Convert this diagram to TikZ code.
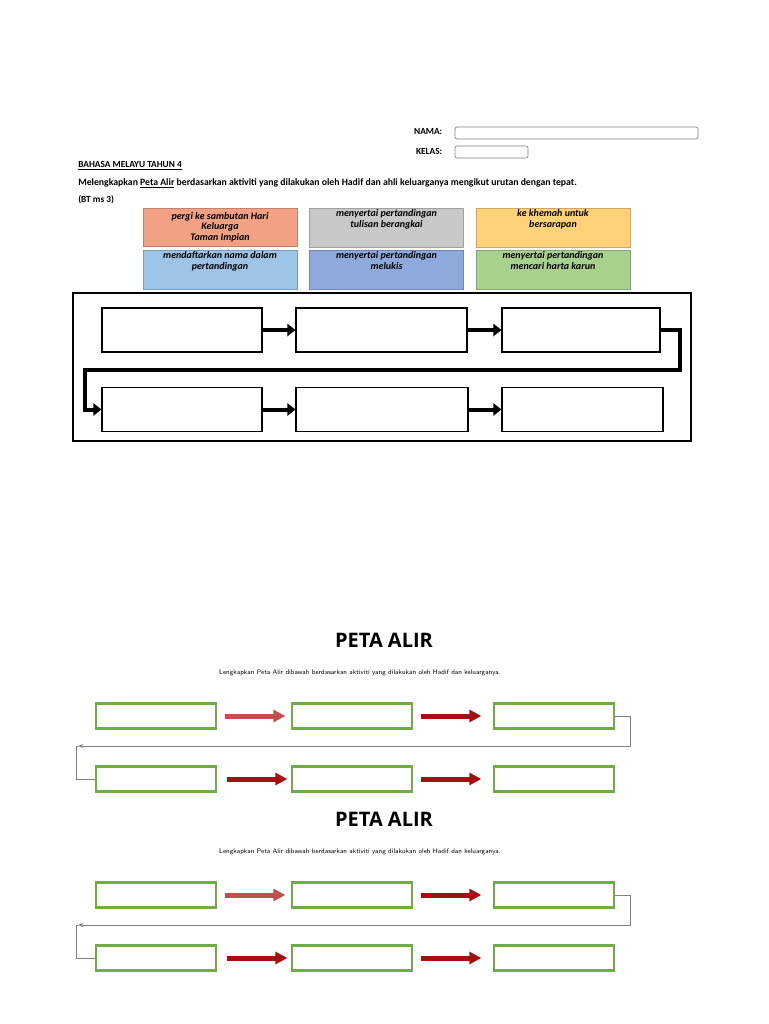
\documentclass[tikz,border=0pt]{standalone}
\usepackage{fontspec}
\setmainfont{Carlito}
\newfontfamily\titlefont{Open Sans}
\usetikzlibrary{arrows.meta}
\definecolor{cA}{HTML}{F2A184}
\definecolor{cB}{HTML}{C8C8C8}
\definecolor{cC}{HTML}{FFD27A}
\definecolor{cD}{HTML}{9DC3E6}
\definecolor{cE}{HTML}{8EA9DB}
\definecolor{cF}{HTML}{A9D18E}
\definecolor{gbox}{HTML}{70AD47}
\definecolor{redA}{HTML}{C0504D}
\definecolor{redB}{HTML}{A50F0F}
\tikzset{
  chip/.style={fill=#1, draw=#1!80!black, line width=0.4pt, minimum width=115.5pt, minimum height=28.5pt, font=\bfseries\itshape\fontsize{7.5}{8}\selectfont, align=center, inner sep=1pt},
  fbox/.style={draw, line width=0.8pt, minimum width=#1, minimum height=33pt, inner sep=0pt},
  gb/.style={draw=gbox, line width=2pt, minimum width=90pt, minimum height=18.75pt, inner sep=0pt},
  bigarrow/.style={line width=3pt, -{Triangle[length=6pt,width=9pt]}},
  redarrow/.style={line width=3.75pt, color=#1, -{Triangle[length=9pt,width=9pt]}},
  fieldbox/.style={draw=gray, rounded corners=1.5pt, line width=0.5pt, minimum height=9pt, inner sep=0pt},
}
\begin{document}
\begin{tikzpicture}[x=0.75pt,y=-0.75pt]
\useasboundingbox (0,0) rectangle (768,1024);
\fill[white] (0,0) rectangle (768,1024);
% header
\node[anchor=east, font=\bfseries\fontsize{7}{8}\selectfont] (nl) at (447,132) {NAMA:};
\node[fieldbox, minimum width=182.25pt] (nb) at (576.5,133) {};
\node[anchor=east, font=\bfseries\fontsize{7}{8}\selectfont] (kl) at (447,151) {KELAS:};
\node[fieldbox, minimum width=54.75pt] (kb) at (491.5,152) {};
\node[anchor=west, font=\bfseries\fontsize{7}{8}\selectfont, inner sep=0pt] (bm) at (78,166) {\underline{BAHASA MELAYU TAHUN 4}};
\node[anchor=west, font=\bfseries\fontsize{7.3}{8}\selectfont, inner sep=0pt] (ins) at (78,183) {Melengkapkan \underline{Peta Alir} berdasarkan aktiviti yang dilakukan oleh Hadif dan ahli keluarganya mengikut urutan dengan tepat.};
\node[anchor=west, font=\bfseries\fontsize{7}{8}\selectfont, inner sep=0pt] (bt) at (78,200) {(BT ms 3)};
% chips
\node[chip=cA, anchor=north] (c1) at (220,208) {pergi ke sambutan Hari\\Keluarga\\Taman Impian};
\node[chip=cB, anchor=north] (c2) at (386.5,208) {menyertai pertandingan\\tulisan berangkai\\[6pt]};
\node[chip=cC, anchor=north] (c3) at (553,208) {ke khemah untuk\\bersarapan\\[6pt]};
\node[chip=cD, anchor=north] (c4) at (220,250) {mendaftarkan nama dalam\\pertandingan\\[6pt]};
\node[chip=cE, anchor=north] (c5) at (386.5,250) {menyertai pertandingan\\melukis\\[6pt]};
\node[chip=cF, anchor=north] (c6) at (553,250) {menyertai pertandingan\\mencari harta karun\\[6pt]};
% frame
\draw[line width=2pt] (73,293) rectangle (691,441);
\node[fbox=120pt] (t1) at (182,330) {};
\node[fbox=128.25pt] (t2) at (381.5,330) {};
\node[fbox=118.5pt] (t3) at (581,330) {};
\node[fbox=120pt] (t4) at (182,409.5) {};
\node[fbox=129pt] (t5) at (382,409.5) {};
\node[fbox=120.75pt] (t6) at (582.5,409.5) {};
\draw[bigarrow] (t1) -- (t2);
\draw[bigarrow] (t2) -- (t3);
\draw[bigarrow] (t4) -- (t5);
\draw[bigarrow] (t5) -- (t6);
\draw[bigarrow] (t3.east) -- ++(19,0) |- (85,370) |- (t4.west);
% two PETA ALIR copies
\foreach \oy/\nm in {0/a,179/b}{
  \node[font=\titlefont\bfseries\fontsize{15}{16}\selectfont] (title\nm) at (384,640+\oy) {PETA ALIR};
  \node[font=\sffamily\fontsize{5}{6}\selectfont] (sub\nm) at (360,673+\oy) {Lengkapkan Peta Alir dibawah berdasarkan aktiviti yang dilakukan oleh Hadif dan keluarganya.};
  \node[gb] (p1\nm) at (156,716+\oy) {};
  \node[gb] (p2\nm) at (352,716+\oy) {};
  \node[gb] (p3\nm) at (554,716+\oy) {};
  \node[gb] (p4\nm) at (156,779+\oy) {};
  \node[gb] (p5\nm) at (352,779+\oy) {};
  \node[gb] (p6\nm) at (554,779+\oy) {};
  \coordinate (tip\nm) at (78,746+\oy);
  \draw[redarrow=redA] (p1\nm.east) ++(8,0) -- ++(60,0);
  \draw[redarrow=redB] (p2\nm.east) ++(8,0) -- ++(60,0);
  \draw[redarrow=redB] (p4\nm.east) ++(10,0) -- ++(60,0);
  \draw[redarrow=redB] (p5\nm.east) ++(8,0) -- ++(60,0);
  \draw[gray, line width=0.7pt, -{Stealth[length=4pt]}] (p3\nm.east) -- ++(15,0) |- (tip\nm);
  \draw[gray, line width=0.7pt] (tip\nm) -- ++(-2,0) |- (p4\nm.west);
}
\end{tikzpicture}
\end{document}
